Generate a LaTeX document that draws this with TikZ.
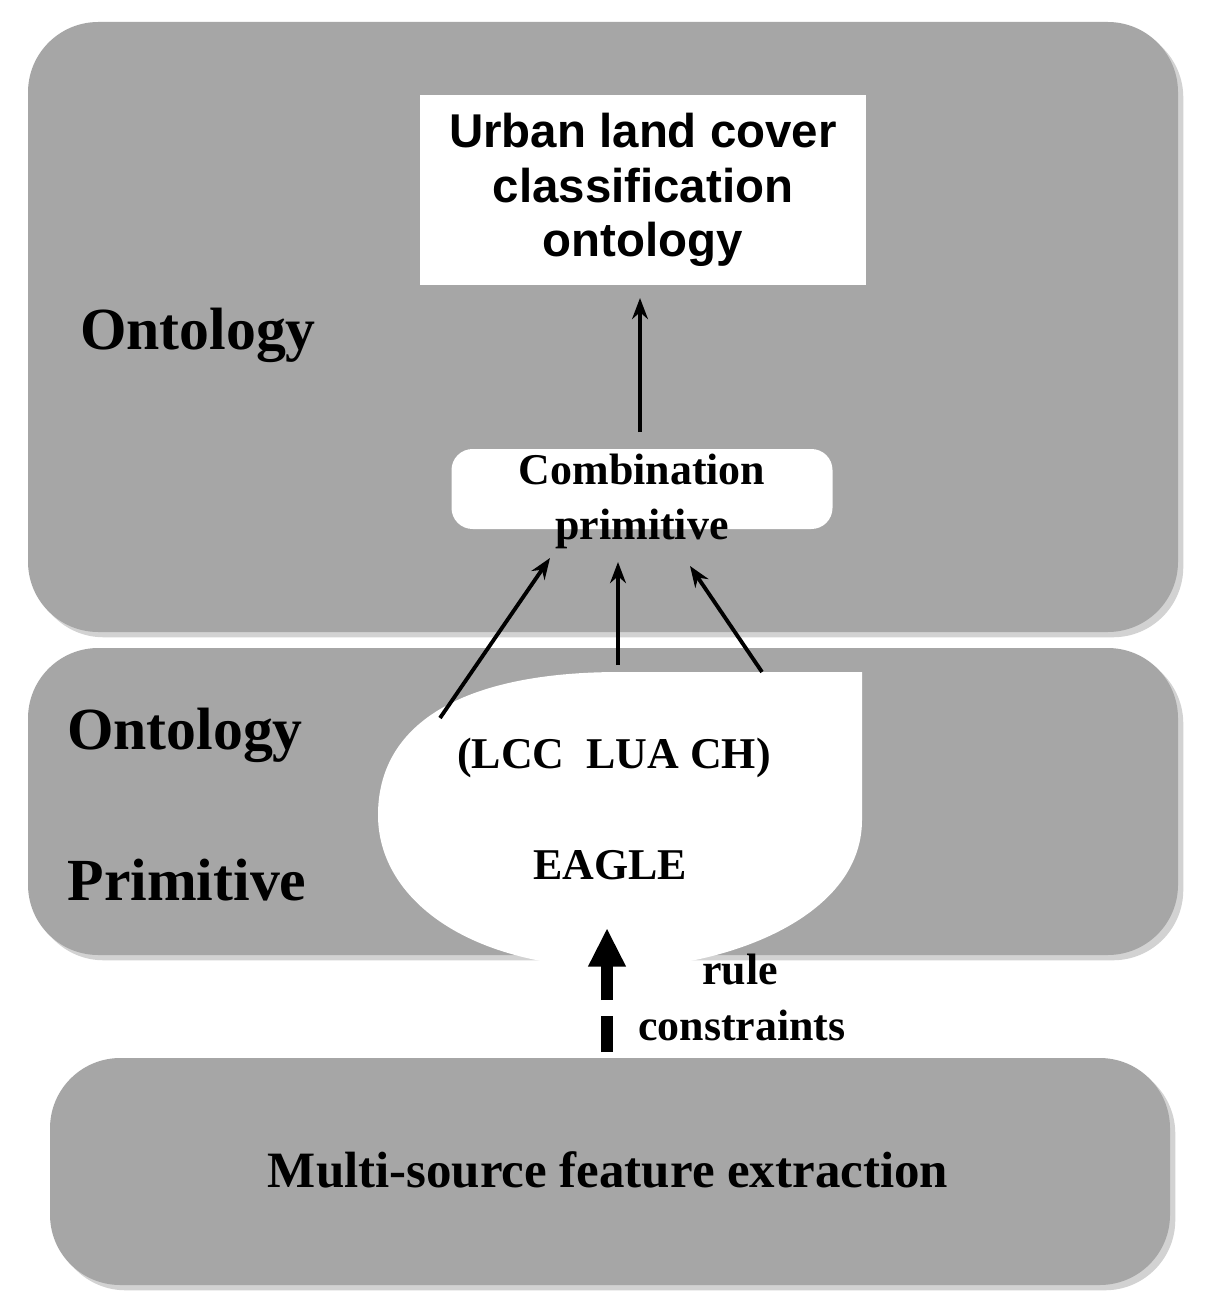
\documentclass[tikz,border=0pt]{standalone}
\usepackage{fontspec}
\setmainfont{Liberation Serif}
\newfontfamily\sansf{Liberation Sans}
\usetikzlibrary{shadows,arrows.meta}
\begin{document}
\begin{tikzpicture}[x=0.02cm,y=-0.02cm,
 panel/.style={fill=black!35,rounded corners=40pt,drop shadow={shadow xshift=3pt,shadow yshift=-3pt,opacity=0.35}},
 lab/.style={font=\fontsize{34}{38}\selectfont\bfseries},
 txt/.style={font=\fontsize{25}{31}\selectfont\bfseries,align=center},
 arr/.style={-{Stealth[length=12pt,width=9pt]},line width=2.2pt}]
\useasboundingbox (0,0) rectangle (1205,1314);
\fill[white] (0,0) rectangle (1205,1314);
\path[panel] (28,22) rectangle (1178,632);
\path[panel] (28,648) rectangle (1178,955);
\path[panel] (50,1058) rectangle (1170,1285);
\node[fill=white,minimum width=446*0.02cm,minimum height=190*0.02cm,font=\sansf\fontsize{27}{31}\selectfont\bfseries,align=center] (urban) at (643,190) {Urban land cover\\classification\\ontology};
\node[fill=white,rounded corners=12pt,minimum width=381*0.02cm,minimum height=80*0.02cm] (comb) at (642,489) {};
\node[txt,anchor=north] (combt) at (642,448) {Combination\\primitive};
\node[lab] (ont1) at (198,335) {Ontology};
\node[lab] (ont2) at (185,735) {Ontology};
\node[lab] (prim) at (187,880) {Primitive};
\fill[white] (862,672) -- (862,820) .. controls (862,920) and (720,968) .. (620,968) .. controls (470,968) and (378,900) .. (378,815) .. controls (378,725) and (460,672) .. (620,672) -- cycle;
\node[txt] (lcc) at (614,758) {(LCC\ \ LUA CH)};
\node[txt] (eagle) at (610,865) {EAGLE};
\coordinate (a1) at (640,432); \coordinate (a1e) at (640,298);
\draw[arr] (a1) -- (a1e);
\coordinate (b1) at (440,718); \coordinate (b1e) at (550,558);
\coordinate (b2) at (618,665); \coordinate (b2e) at (618,562);
\coordinate (b3) at (762,672); \coordinate (b3e) at (690,566);
\draw[arr] (b1) -- (b1e);
\draw[arr] (b2) -- (b2e);
\draw[arr] (b3) -- (b3e);
\coordinate (t0) at (607,1052); \coordinate (t1) at (607,1016);
\coordinate (t2) at (607,1000); \coordinate (t3) at (607,928);
\draw[line width=7pt] (t0) -- (t1);
\draw[line width=7pt,-{Triangle[length=22pt,width=20pt]}] (t2) -- (t3);
\node[txt] (rule) at (740,970) {rule};
\node[txt] (cons) at (742,1025) {constraints};
\node[font=\fontsize{29}{33}\selectfont\bfseries] (ms) at (608,1170) {Multi-source feature extraction};
\end{tikzpicture}
\end{document}
